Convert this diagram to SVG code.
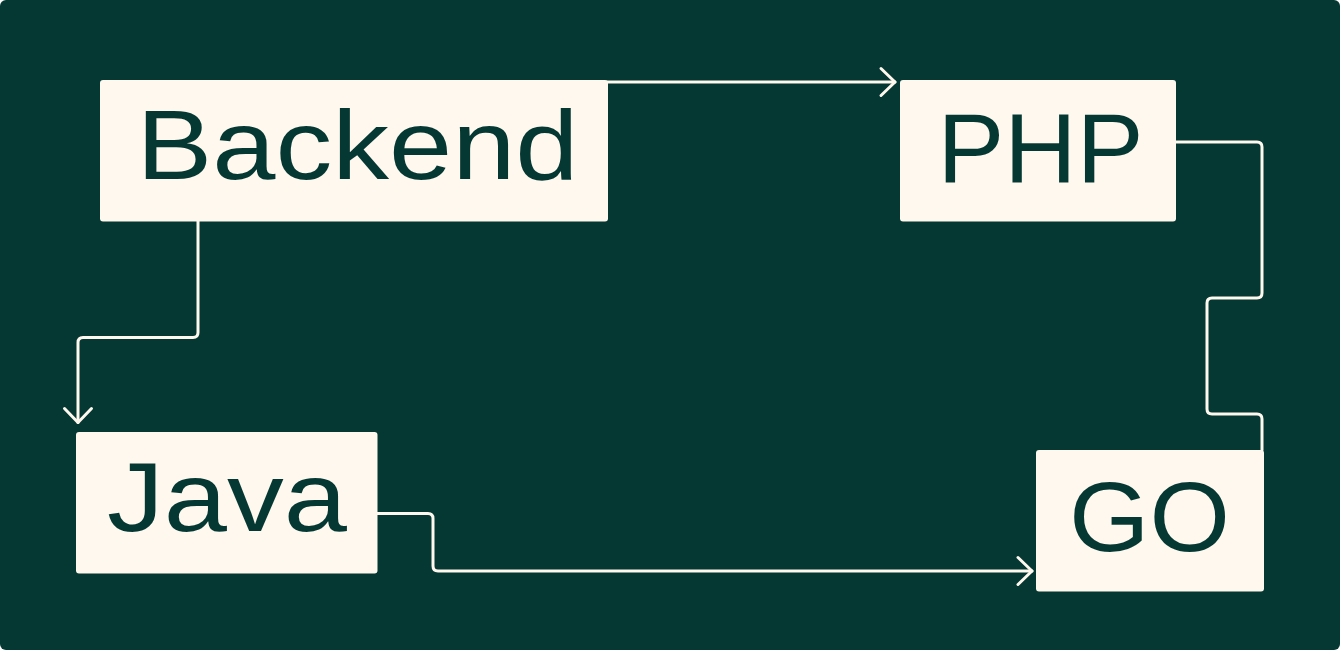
<svg xmlns="http://www.w3.org/2000/svg" width="1340" height="650" viewBox="0 0 1340 650">
  <style>
    .node rect { fill: #FEF8EE; }
    .node text { fill: #053833; font-family: "Liberation Sans", Arial, sans-serif; font-size: 99px; }
    .edge { fill: none; stroke: #FEF8EE; stroke-width: 3; stroke-linecap: round; stroke-linejoin: round; }
  </style>
  <defs>
    <marker id="chev" markerUnits="userSpaceOnUse" markerWidth="40" markerHeight="40" viewBox="-20 -20 40 40" refX="0" refY="0" orient="auto">
      <path d="M-14,-13.5 L0,0 L-14,13.5" fill="none" stroke="#FEF8EE" stroke-width="3" stroke-linecap="round" stroke-linejoin="round"/>
    </marker>
  </defs>
  <rect x="0" y="0" width="1340" height="650" rx="6" fill="#053833"/>

  <g id="connectors">
    <path class="edge" d="M606,82 H895" marker-end="url(#chev)"/>
    <path class="edge" d="M198,221 V332.5 Q198,337.5 193,337.5 H83 Q78,337.5 78,342.5 V422.5" marker-end="url(#chev)"/>
    <path class="edge" d="M377,513.5 H428 Q433,513.5 433,518.5 V566 Q433,571 438,571 H1032" marker-end="url(#chev)"/>
    <path class="edge" d="M1176,142 H1257 Q1262,142 1262,147 V293 Q1262,298 1257,298 H1212 Q1207,298 1207,303 V409 Q1207,414 1212,414 H1257 Q1262,414 1262,419 V450"/>
  </g>

  <g id="node-backend" class="node">
    <rect x="100" y="80" width="508" height="141.5" rx="3"/>
    <text x="136.5" y="178.5" textLength="442" lengthAdjust="spacingAndGlyphs">Backend</text>
  </g>
  <g id="node-php" class="node">
    <rect x="900" y="80" width="276" height="141.5" rx="3"/>
    <text x="937.5" y="182" textLength="206" lengthAdjust="spacingAndGlyphs">PHP</text>
  </g>
  <g id="node-java" class="node">
    <rect x="76" y="432" width="301.5" height="141.5" rx="3"/>
    <text x="107" y="531" textLength="240" lengthAdjust="spacingAndGlyphs">Java</text>
  </g>
  <g id="node-go" class="node">
    <rect x="1036" y="450" width="228" height="141.5" rx="3"/>
    <text x="1069" y="551" textLength="161" lengthAdjust="spacingAndGlyphs">GO</text>
  </g>
</svg>
